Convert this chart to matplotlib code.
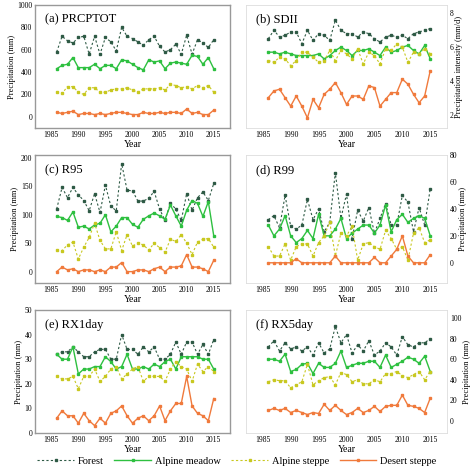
import matplotlib
matplotlib.use("Agg")
import matplotlib.pyplot as plt
import numpy as np

plt.rcParams['font.family'] = ['Liberation Serif', 'DejaVu Serif']
plt.rcParams['font.size'] = 6

years = list(range(1986, 2016))
series_names = ["Forest", "Alpine meadow", "Alpine steppe", "Desert steppe"]

prcptot_forest = [580,720,680,660,710,720,560,720,560,710,670,590,800,720,700,670,640,690,720,630,580,600,650,560,730,560,690,660,620,690]
prcptot_meadow = [430,460,470,530,440,440,440,470,430,460,460,430,510,500,470,440,420,510,490,500,430,480,490,480,470,550,540,470,530,430]
prcptot_steppe = [220,210,270,270,220,200,260,260,220,220,240,250,250,260,240,220,250,250,250,260,240,290,280,260,270,250,280,260,280,220]
prcptot_desert = [40,30,40,50,20,30,30,20,30,20,30,40,40,30,20,20,40,30,30,40,30,40,40,30,70,30,40,20,20,60]

sdii_forest = [6.5,7.0,6.6,6.7,6.9,6.9,6.2,7.0,6.4,6.8,6.7,6.4,7.6,7.0,6.8,6.8,6.6,6.9,6.8,6.5,6.3,6.6,6.7,6.6,6.7,6.5,6.8,6.9,7.0,7.1]
sdii_meadow = [5.7,5.7,5.6,5.7,5.6,5.5,5.5,5.5,5.5,5.6,5.3,5.5,5.8,6.0,5.8,5.5,5.8,5.8,5.9,5.7,5.5,6.0,5.7,5.8,6.0,6.1,5.8,5.6,6.1,5.3]
sdii_steppe = [5.2,5.1,5.4,5.3,4.9,5.2,5.7,5.7,5.4,5.1,5.2,5.8,5.2,5.8,5.6,5.3,5.9,5.0,5.7,5.5,5.0,5.9,5.8,6.2,6.0,5.1,5.7,5.6,5.9,5.6]
sdii_desert = [3.0,3.4,3.5,3.0,2.5,3.1,2.5,1.8,2.9,2.4,3.2,3.5,3.9,3.3,2.6,3.1,3.1,2.9,3.7,3.6,2.5,2.9,3.3,3.3,4.1,3.8,3.2,2.7,3.1,4.6]

r95_forest = [110,148,130,148,135,125,107,137,104,152,115,107,190,143,142,124,124,129,141,110,90,120,110,90,137,108,130,140,125,155]
r95_meadow = [97,95,90,105,78,80,75,82,85,100,70,80,95,95,83,78,92,98,103,98,92,117,98,80,108,125,120,97,123,63]
r95_steppe = [38,37,47,52,22,43,60,85,55,40,40,70,37,65,45,50,47,38,50,42,34,57,53,65,50,30,52,57,58,43]
r95_desert = [0,8,3,5,0,3,3,0,3,0,8,8,16,0,0,3,3,0,5,8,0,8,8,10,30,8,8,5,0,20]

r99_forest = [32,35,26,50,27,25,28,47,32,40,23,30,67,33,51,18,39,31,41,22,33,44,28,28,50,45,23,41,28,55]
r99_meadow = [28,20,25,35,20,15,18,24,18,36,20,20,25,33,18,22,25,28,28,22,28,43,23,32,36,30,33,35,33,20]
r99_steppe = [12,5,5,14,2,12,14,14,5,15,20,30,5,22,20,27,2,14,15,12,10,24,18,10,12,2,22,26,15,17]
r99_desert = [0,0,0,0,0,3,0,0,0,0,0,0,5,0,0,0,0,0,0,4,0,0,5,10,20,5,0,0,0,6]

rx1_forest = [32,33,33,35,33,31,31,33,34,34,30,30,40,34,34,32,35,33,35,30,30,32,37,32,37,37,32,36,32,38]
rx1_meadow = [32,30,30,35,24,26,26,27,27,31,29,26,27,32,26,26,27,26,28,27,29,30,26,31,31,31,31,30,30,26]
rx1_steppe = [23,22,22,23,18,23,23,26,21,23,26,27,22,24,26,27,21,23,23,23,21,26,29,27,26,21,28,25,27,25]
rx1_desert = [6,9,7,7,4,8,5,3,6,4,8,9,11,7,4,6,7,5,7,11,5,9,12,12,23,11,8,7,5,14]

rx5_forest = [72,78,68,76,70,72,68,72,64,76,66,70,92,76,84,66,74,68,78,64,68,76,72,64,82,74,72,76,76,80]
rx5_meadow = [60,60,58,65,48,50,55,56,46,56,52,52,56,68,52,54,56,56,58,58,52,64,52,55,58,62,60,56,63,48]
rx5_steppe = [38,40,39,39,32,35,38,55,35,39,42,43,35,47,45,38,40,36,36,40,38,46,46,48,44,42,45,48,40,48]
rx5_desert = [10,12,10,12,8,10,8,6,8,7,16,10,15,10,6,8,12,8,10,14,9,14,15,15,25,15,14,12,8,22]

styles = [
    dict(color='#2e5a45', ls=(0, (2, 2)), lw=0.8, marker='s', ms=2),
    dict(color='#2ec040', ls='-', lw=1.0, marker='s', ms=2),
    dict(color='#c8c820', ls=(0, (2, 2)), lw=0.8, marker='s', ms=2),
    dict(color='#f07a3c', ls='-', lw=1.0, marker='s', ms=2),
]

panels = [
    ("(a) PRCPTOT", [prcptot_forest, prcptot_meadow, prcptot_steppe, prcptot_desert], (-100, 1000), [0,200,400,600,800,1000], "Precipitation (mm)", False),
    ("(b) SDII", [sdii_forest, sdii_meadow, sdii_steppe, sdii_desert], (1.2, 8.5), [2,4,6,8], "Precipitation intensity (mm/d)", True),
    ("(c) R95", [r95_forest, r95_meadow, r95_steppe, r95_desert], (-20, 205), [0,50,100,150,200], "Precipitation (mm)", False),
    ("(d) R99", [r99_forest, r99_meadow, r99_steppe, r99_desert], (-15, 80), [0,20,40,60,80], "Precipitation (mm)", True),
    ("(e) RX1day", [rx1_forest, rx1_meadow, rx1_steppe, rx1_desert], (0, 50), [0,10,20,30,40,50], "Precipitation (mm)", False),
    ("(f) RX5day", [rx5_forest, rx5_meadow, rx5_steppe, rx5_desert], (-12, 108), [0,20,40,60,80,100], "Precipitation (mm)", True),
]

W = H = 474
fig = plt.figure(figsize=(4.74, 4.74), dpi=100)
rows = [(5, 128), (155, 283), (310, 433)]
cols = [(35, 230), (246, 447)]
handles = []
for i, (title, data, ylim, yt, ylab, right) in enumerate(panels):
    r, c = divmod(i, 2)
    x0, x1 = cols[c]; y0, y1 = rows[r]
    ax = fig.add_axes([x0 / W, 1 - y1 / H, (x1 - x0) / W, (y1 - y0) / H])
    for d, st in zip(data, styles):
        h, = ax.plot(years, d, **st)
        if i == 0:
            handles.append(h)
    ax.set_xlim(1982, 2018)
    ax.set_xticks([1985, 1990, 1995, 2000, 2005, 2010, 2015])
    ax.set_ylim(*ylim)
    ax.set_yticks(yt)
    ax.set_xlabel("Year", fontsize=7, labelpad=1)
    ax.set_ylabel(ylab, fontsize=6, labelpad=1)
    ax.tick_params(length=0, labelsize=5.5, pad=2)
    if right:
        ax.yaxis.tick_right()
        ax.yaxis.set_label_position("right")
    for s in ax.spines.values():
        s.set_color('#999999' if not right else '#dddddd')
        s.set_linewidth(1.0 if not right else 0.6)
    ax.text(0.05, 0.93, title, transform=ax.transAxes, fontsize=9, va='top')

fig.legend(handles, series_names, loc='center', bbox_to_anchor=(0.5, 1 - 461 / H),
           ncol=4, frameon=False, fontsize=7.5, handlelength=3.5, columnspacing=1.0,
           handletextpad=0.4)
fig.savefig("out.png", dpi=100)
